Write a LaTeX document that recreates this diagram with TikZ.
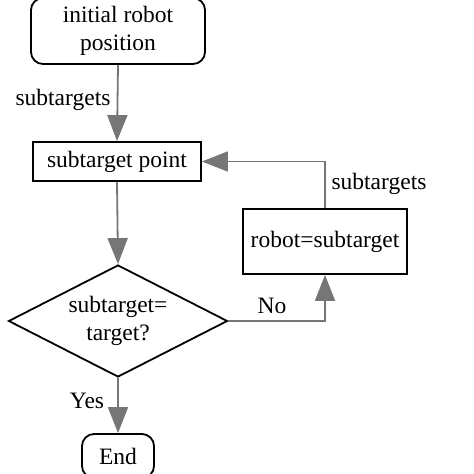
\documentclass[tikz,border=0pt]{standalone}
\usepackage{fontspec}
\setmainfont{Liberation Serif}
\usetikzlibrary{shapes.geometric,arrows.meta}
\definecolor{conn}{RGB}{118,118,118}
\begin{document}
\begin{tikzpicture}[x=1pt,y=-1pt,
  every node/.style={font=\fontsize{23.5}{28}\selectfont},
  boxbase/.style={draw=black,line width=1.8pt,inner sep=0pt,align=center},
  roundbox/.style={boxbase,rounded corners=12pt},
  rectbox/.style={boxbase},
  decbox/.style={boxbase,diamond,shape aspect=1.96,inner sep=0pt},
  link/.style={draw=conn,line width=1.8pt,-{Triangle[length=26pt,width=20pt,fill=conn]}},
  lbl/.style={inner sep=0pt}]
\useasboundingbox (0,0) rectangle (474,474);
\clip (0,0) rectangle (474,474);
\node[roundbox,minimum width=174pt,minimum height=66pt] (init) at (118,31) {initial robot\\position};
\node[rectbox,minimum width=168pt,minimum height=39pt] (sp) at (117,161.5) {subtarget point};
\node[decbox,minimum width=219pt,minimum height=112pt] (dec) at (118,321) {subtarget=\\target?};
\node[rectbox,minimum width=164pt,minimum height=65pt] (rob) at (325,241.5) {robot=subtarget};
\node[roundbox,minimum width=72pt,minimum height=44pt] (end) at (118,456) {End};
\coordinate (cno) at (325,321);
\coordinate (cup) at (325,161.5);
\draw[link] (init.south) -- (sp.north);
\draw[link] (sp.south) -- (dec.north);
\draw[link] (dec.east) -- (cno) -- (rob.south);
\draw[link] (rob.north) -- (cup) -- (sp.east);
\draw[link] (dec.south) -- (end.north);
\node[lbl] (l1) at (63,100) {subtargets};
\node[lbl] (l2) at (379,184) {subtargets};
\node[lbl] (l3) at (272,306) {No};
\node[lbl] (l4) at (87,401) {Yes};
\end{tikzpicture}
\end{document}
